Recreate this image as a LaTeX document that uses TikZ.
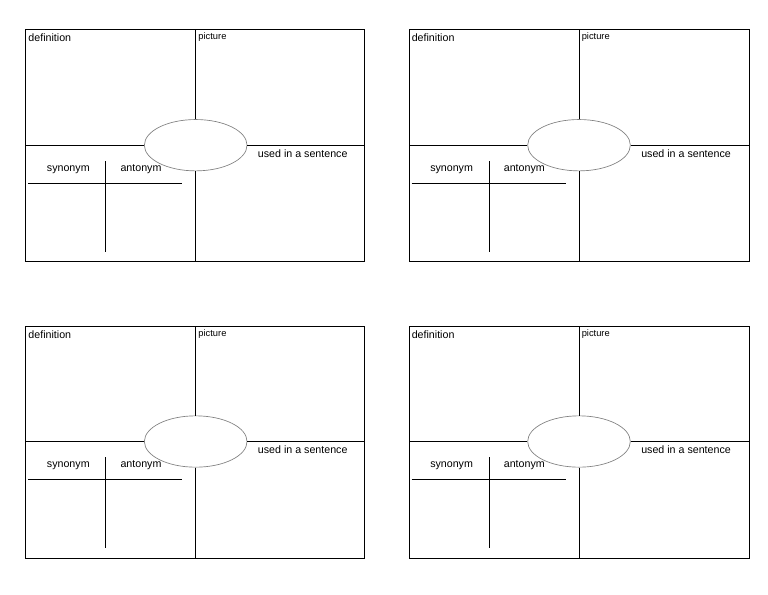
\documentclass[tikz,border=0pt]{standalone}
\usepackage{fontspec}
\setmainfont{Liberation Sans}
\usetikzlibrary{shapes.geometric}

\tikzset{
	frame/.style={line width=0.7pt},
	oval/.style={ellipse, draw=gray, line width=0.5pt, fill=white, minimum width=77pt, minimum height=38.5pt, inner sep=0pt},
	heading/.style={inner sep=0pt, font=\fontsize{8}{9}\selectfont},
	small heading/.style={heading, font=\fontsize{7}{8}\selectfont}
}

\begin{document}
\begin{tikzpicture}[x=0.75pt,y=-0.75pt]
	\useasboundingbox (0,0) rectangle (768,594);
	\foreach \i/\ox/\oy/\w in {1/25.7/29.7/338.6, 2/409/29.7/340, 3/25.7/326/338.6, 4/409/326/340}{
		\begin{scope}[shift={(\ox,\oy)}]
			\draw[frame] (0,0) rectangle (\w,232);
			\node[oval] (oval\i) at (170,115.5) {};
			\draw[frame] (0,115.5) -- (oval\i.west);
			\draw[frame] (oval\i.east) -- (\w,115.5);
			\draw[frame] (170,0) -- (oval\i.north);
			\draw[frame] (oval\i.south) -- (170,232);
			% synonym / antonym table
			\draw[frame] (2.6,153.6) -- (156.6,153.6);
			\draw[frame] (80,131.3) -- (80,222);
			\node[heading, anchor=west] (def\i) at (2.5,8.2) {definition};
			\node[small heading, anchor=west] (pic\i) at (172.5,7.6) {picture};
			\node[heading, anchor=west] (sent\i) at (232,123.6) {used in a sentence};
			\node[heading, anchor=base] (syn\i) at (42.6,141.8) {synonym};
			\node[heading, anchor=base] (ant\i) at (115.3,141.8) {antonym};
		\end{scope}
	}
\end{tikzpicture}
\end{document}
